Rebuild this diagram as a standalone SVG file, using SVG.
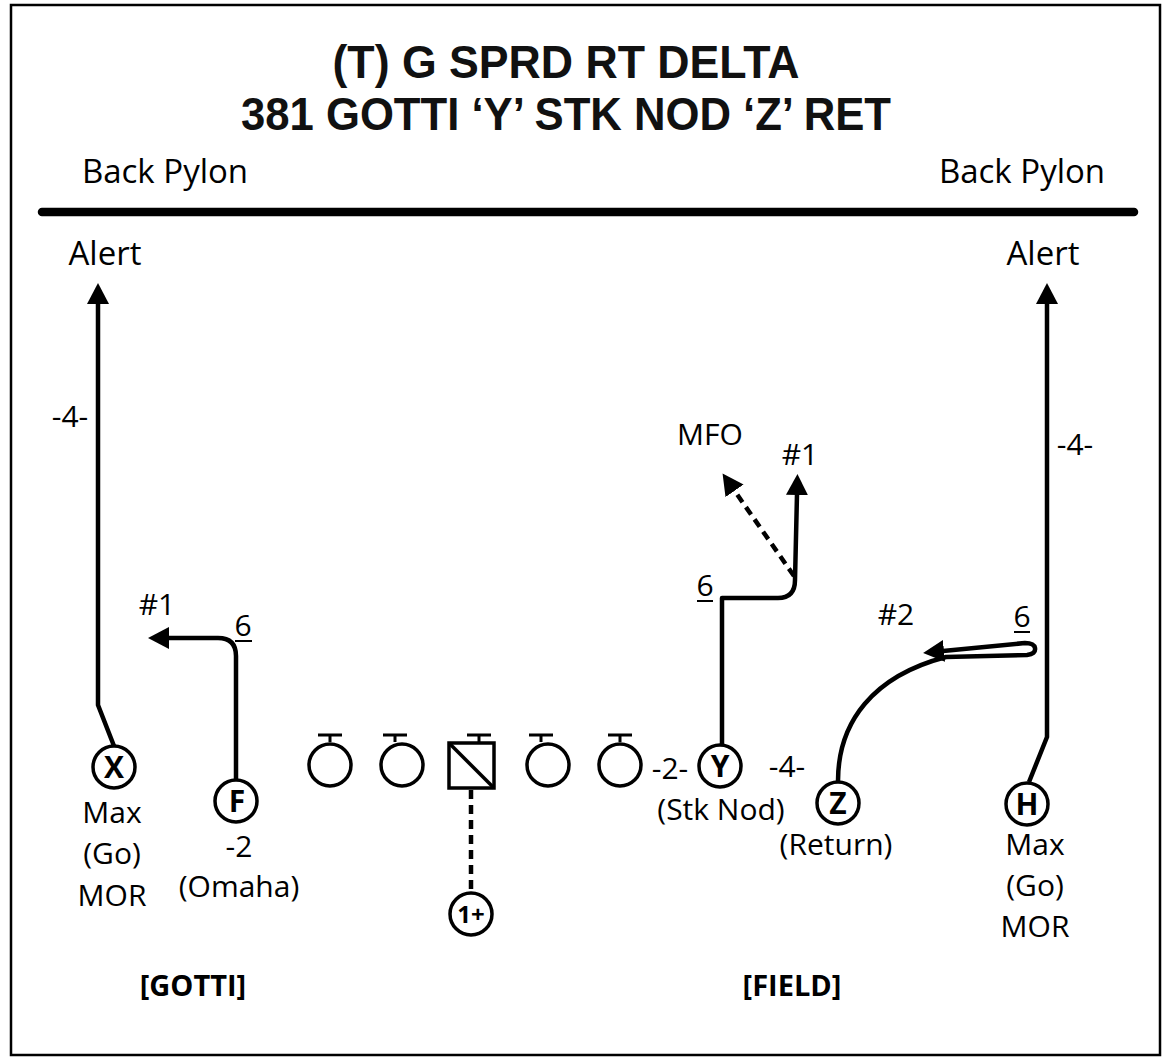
<svg xmlns="http://www.w3.org/2000/svg" width="1170" height="1061" viewBox="0 0 1170 1061">
<style>
.t{font-family:"Open Sans","Noto Sans",sans-serif;font-size:30px;fill:#000;text-anchor:middle}
.big{font-size:33px}
.b{font-weight:bold;font-size:29px}
.title{font-family:"Liberation Sans",Arial,sans-serif;font-weight:bold;font-size:46px;text-anchor:middle;fill:#111}
.node{fill:#fff;stroke:#000;stroke-width:3.5}
.lt{font-family:"Open Sans","Noto Sans",sans-serif;font-weight:bold;font-size:30px;text-anchor:middle;fill:#000}
.route{fill:none;stroke:#000;stroke-width:4.5;stroke-linejoin:round}
.dash{stroke-dasharray:9 6}
.ul{stroke:#000;stroke-width:2}
</style>
<defs>
<marker id="ah" markerUnits="userSpaceOnUse" markerWidth="22" markerHeight="24" refX="1" refY="11" orient="auto" viewBox="0 0 22 22">
<path d="M0,0 L21,11 L0,22 z" fill="#000"/>
</marker>
<g id="tmark"><path d="M-12,0 H12 M0,0 V7" stroke="#000" stroke-width="3" fill="none"/></g>
</defs>
<rect x="11" y="5" width="1149" height="1050" fill="#fff" stroke="#000" stroke-width="2.5"/>

<g id="title">
<text class="title" x="566" y="78" textLength="467" lengthAdjust="spacingAndGlyphs">(T) G SPRD RT DELTA</text>
<text class="title" x="566" y="130" textLength="650" lengthAdjust="spacingAndGlyphs">381 GOTTI ‘Y’ STK NOD ‘Z’ RET</text>
</g>

<g id="endline">
<line x1="42" y1="212" x2="1134" y2="212" stroke="#000" stroke-width="8.5" stroke-linecap="round"/>
<text class="t big" x="165" y="183">Back Pylon</text>
<text class="t big" x="1022" y="183">Back Pylon</text>
</g>

<g id="connectors">
<path class="route" d="M114,746 L98,705 L98,303" marker-end="url(#ah)"/>
<path class="route" d="M1029,782 L1047,737 L1047,303" marker-end="url(#ah)"/>
<path class="route" d="M236,779 L236,656 Q236,638 218,638 L168,638" marker-end="url(#ah)"/>
<path class="route" d="M722,744 L722,598 L778,598 Q795,598 795,580 L797,494" marker-end="url(#ah)"/>
<path class="route dash" d="M794,576 L734,490" marker-end="url(#ah)"/>
<path class="route" d="M838,781 C838,722 873,676 946,657 L1027,655 Q1036,654 1035,648 Q1034,643 1025,643 L943,651" marker-end="url(#ah)"/>
<path class="route dash" d="M471,790 L471,891"/>
</g>

<g id="labels">
<text class="t big" x="105" y="265">Alert</text>
<text class="t big" x="1043" y="265">Alert</text>
<text class="t" x="70" y="427">-4-</text>
<text class="t" x="1075" y="455">-4-</text>
<text class="t" x="157" y="615">#1</text>
<text class="t" x="243" y="636">6</text>
<line class="ul" x1="235" y1="641" x2="252" y2="641"/>
<text class="t" x="710" y="445">MFO</text>
<text class="t" x="800" y="465">#1</text>
<text class="t" x="705" y="596">6</text>
<line class="ul" x1="697" y1="601" x2="713" y2="601"/>
<text class="t" x="896" y="625">#2</text>
<text class="t" x="1022" y="627">6</text>
<line class="ul" x1="1014" y1="632" x2="1030" y2="632"/>
<text class="t" x="670" y="779">-2-</text>
<text class="t" x="787" y="777">-4-</text>
<text class="t b" x="193" y="996">[GOTTI]</text>
<text class="t b" x="792" y="996">[FIELD]</text>
</g>

<g id="line">
<g id="lt1"><use href="#tmark" x="330" y="735"/><circle cx="330" cy="765" r="21" fill="#fff" stroke="#000" stroke-width="3.5"/></g>
<g id="lg1"><use href="#tmark" x="395" y="735"/><circle cx="402" cy="765" r="21" fill="#fff" stroke="#000" stroke-width="3.5"/></g>
<g id="center"><use href="#tmark" x="479" y="735"/><rect x="449" y="743" width="45" height="45" fill="#fff" stroke="#000" stroke-width="3.5"/><line x1="449" y1="743" x2="494" y2="788" stroke="#000" stroke-width="3.5"/></g>
<g id="rg1"><use href="#tmark" x="541" y="735"/><circle cx="548" cy="765" r="21" fill="#fff" stroke="#000" stroke-width="3.5"/></g>
<g id="rt1"><use href="#tmark" x="620" y="735"/><circle cx="620" cy="765" r="21" fill="#fff" stroke="#000" stroke-width="3.5"/></g>
</g>

<g id="nodeX"><circle class="node" cx="114" cy="767" r="21"/><text class="lt" x="114" y="778">X</text>
<text class="t" x="112" y="823">Max</text><text class="t" x="112" y="864">(Go)</text><text class="t" x="112" y="906">MOR</text></g>
<g id="nodeF"><circle class="node" cx="236" cy="801" r="21"/><text class="lt" x="237" y="812">F</text>
<text class="t" x="239" y="857">-2</text><text class="t" x="239" y="897">(Omaha)</text></g>
<g id="nodeY"><circle class="node" cx="720" cy="766" r="21"/><text class="lt" x="720" y="777">Y</text>
<text class="t" x="721" y="820">(Stk Nod)</text></g>
<g id="nodeZ"><circle class="node" cx="838" cy="803" r="21"/><text class="lt" x="838" y="814">Z</text>
<text class="t" x="836" y="855">(Return)</text></g>
<g id="nodeH"><circle class="node" cx="1027" cy="804" r="21"/><text class="lt" x="1027" y="815">H</text>
<text class="t" x="1035" y="855">Max</text><text class="t" x="1035" y="896">(Go)</text><text class="t" x="1035" y="937">MOR</text></g>
<g id="node1"><circle class="node" cx="471" cy="914" r="21"/><text class="lt" x="471" y="923" style="font-size:24px">1+</text></g>
</svg>
